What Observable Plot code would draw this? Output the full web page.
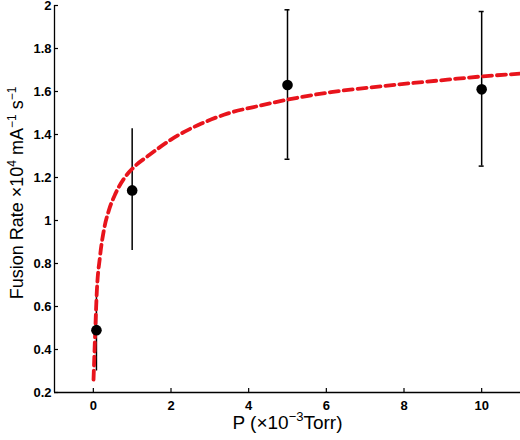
<!DOCTYPE html>
<html><head><meta charset="utf-8">
<script src="https://cdn.jsdelivr.net/npm/d3@7"></script>
<script src="https://cdn.jsdelivr.net/npm/@observablehq/plot@0.6"></script>
<style>
body{margin:0;background:#fff}
</style>
</head><body><div id="chart"></div>
<script>
// measured points with error bars
const pressure = [0.08, 1, 5, 10];
const rate = [0.49, 1.14, 1.63, 1.61];
const rateLow = [0.30, 0.86, 1.285, 1.253];
const rateHigh = [0.645, 1.427, 1.98, 1.972];
// dashed fit curve
const fitP = [0.005, 0.05, 0.09, 0.17, 0.27, 0.40, 0.57, 0.79, 1.05, 1.43, 1.99, 2.77, 3.45, 4.31, 5.0, 6.12, 7.4, 9.12, 10.0, 11.0];
const fitRate = [0.26, 0.49, 0.67, 0.83, 0.954, 1.047, 1.125, 1.195, 1.249, 1.303, 1.375, 1.450, 1.497, 1.535, 1.562, 1.597, 1.624, 1.655, 1.67, 1.683];
const xTicks = [0, 2, 4, 6, 8, 10];
const xTickLabels = ["0", "2", "4", "6", "8", "10"];
const yTicks = [0.2, 0.4, 0.6, 0.8, 1, 1.2, 1.4, 1.6, 1.8, 2];
const yTickLabels = ["0.2", "0.4", "0.6", "0.8", "1", "1.2", "1.4", "1.6", "1.8", "2"];
const xLabel = "P (×10^{−3}Torr)";
const yLabel = "Fusion Rate ×10^{4} mA^{−1} s^{−1}";

const points = pressure.map((p, i) => ({p, rate: rate[i], lo: rateLow[i], hi: rateHigh[i]}));
const fit = fitP.map((p, i) => ({p, rate: fitRate[i]}));

const W = 520, H = 440, mL = 54, mT = 5, mB = 48, mR = 0;
const plotW = W - mL - mR, plotH = H - mT - mB;

const chart = Plot.plot({
  width: W, height: H,
  marginLeft: mL, marginTop: mT, marginBottom: mB, marginRight: mR,
  style: {fontFamily: "'Liberation Sans', Arial, sans-serif", background: "#fff", color: "#000", overflow: "visible"},
  x: {domain: [-1, 11]},
  y: {domain: [0.2, 2]},
  marks: [
    Plot.axisX({ticks: xTicks, tickFormat: d => xTickLabels[xTicks.indexOf(d)], tickSize: 0, tickPadding: 8, fontSize: 13, fontWeight: "bold", fill: "#000", label: null}),
    Plot.axisY({ticks: yTicks, tickFormat: d => yTickLabels[yTicks.indexOf(d)], tickSize: 0, tickPadding: 3, fontSize: 13, fontWeight: "bold", fill: "#000", label: null}),
    Plot.tickX(xTicks, {x: d => d, insetTop: plotH - 4, stroke: "#000", strokeWidth: 1.2}),
    Plot.tickY(yTicks, {y: d => d, insetRight: plotW - 4, stroke: "#000", strokeWidth: 1.2}),
    Plot.ruleX([-1], {stroke: "#000", strokeWidth: 1.3}),
    Plot.ruleY([0.2], {stroke: "#000", strokeWidth: 1.3}),
    Plot.ruleX(points, {x: "p", y1: "lo", y2: "hi", stroke: "#000", strokeWidth: 1.5}),
    Plot.ruleY(points.filter(d => d.p >= 5), {y: "hi", x1: "p", x2: "p", insetLeft: -2.5, insetRight: -2.5, stroke: "#000", strokeWidth: 1.5}),
    Plot.ruleY(points.filter(d => d.p >= 5), {y: "lo", x1: "p", x2: "p", insetLeft: -2.5, insetRight: -2.5, stroke: "#000", strokeWidth: 1.5}),
    Plot.line(fit, {x: "p", y: "rate", stroke: "#e8141c", strokeWidth: 3.8, strokeDasharray: "9,5", curve: "monotone-x"}),
    Plot.dot(points, {x: "p", y: "rate", r: 5.3, fill: "#000"}),
    Plot.text([yLabel], {text: d => d, frameAnchor: "left", textAnchor: "middle", dx: -37, dy: -6, rotate: -90, fontSize: 18, fill: "#000"}),
    Plot.text([xLabel], {text: d => d, frameAnchor: "bottom", textAnchor: "middle", dy: 36, fontSize: 19, fill: "#000"})
  ]
});

// turn ^{...} into real superscript tspans
for (const t of chart.querySelectorAll("text")) {
  const s = t.textContent;
  if (!s.includes("^{")) continue;
  const size = parseFloat(t.closest("[font-size]").getAttribute("font-size")) || 18;
  const sup = Math.round(size * 0.68), shift = size * 0.4;
  t.textContent = "";
  let raised = false;
  for (const part of s.split(/(\^\{[^}]*\})/)) {
    if (!part) continue;
    const ts = document.createElementNS("http://www.w3.org/2000/svg", "tspan");
    if (part.startsWith("^{")) {
      ts.textContent = part.slice(2, -1);
      ts.setAttribute("font-size", sup + "px");
      ts.setAttribute("dy", (raised ? 0 : -shift) + "px");
      raised = true;
    } else {
      ts.textContent = part;
      if (raised) { ts.setAttribute("dy", shift + "px"); raised = false; }
    }
    t.appendChild(ts);
  }
}
document.getElementById("chart").appendChild(chart);
</script>
</body></html>
